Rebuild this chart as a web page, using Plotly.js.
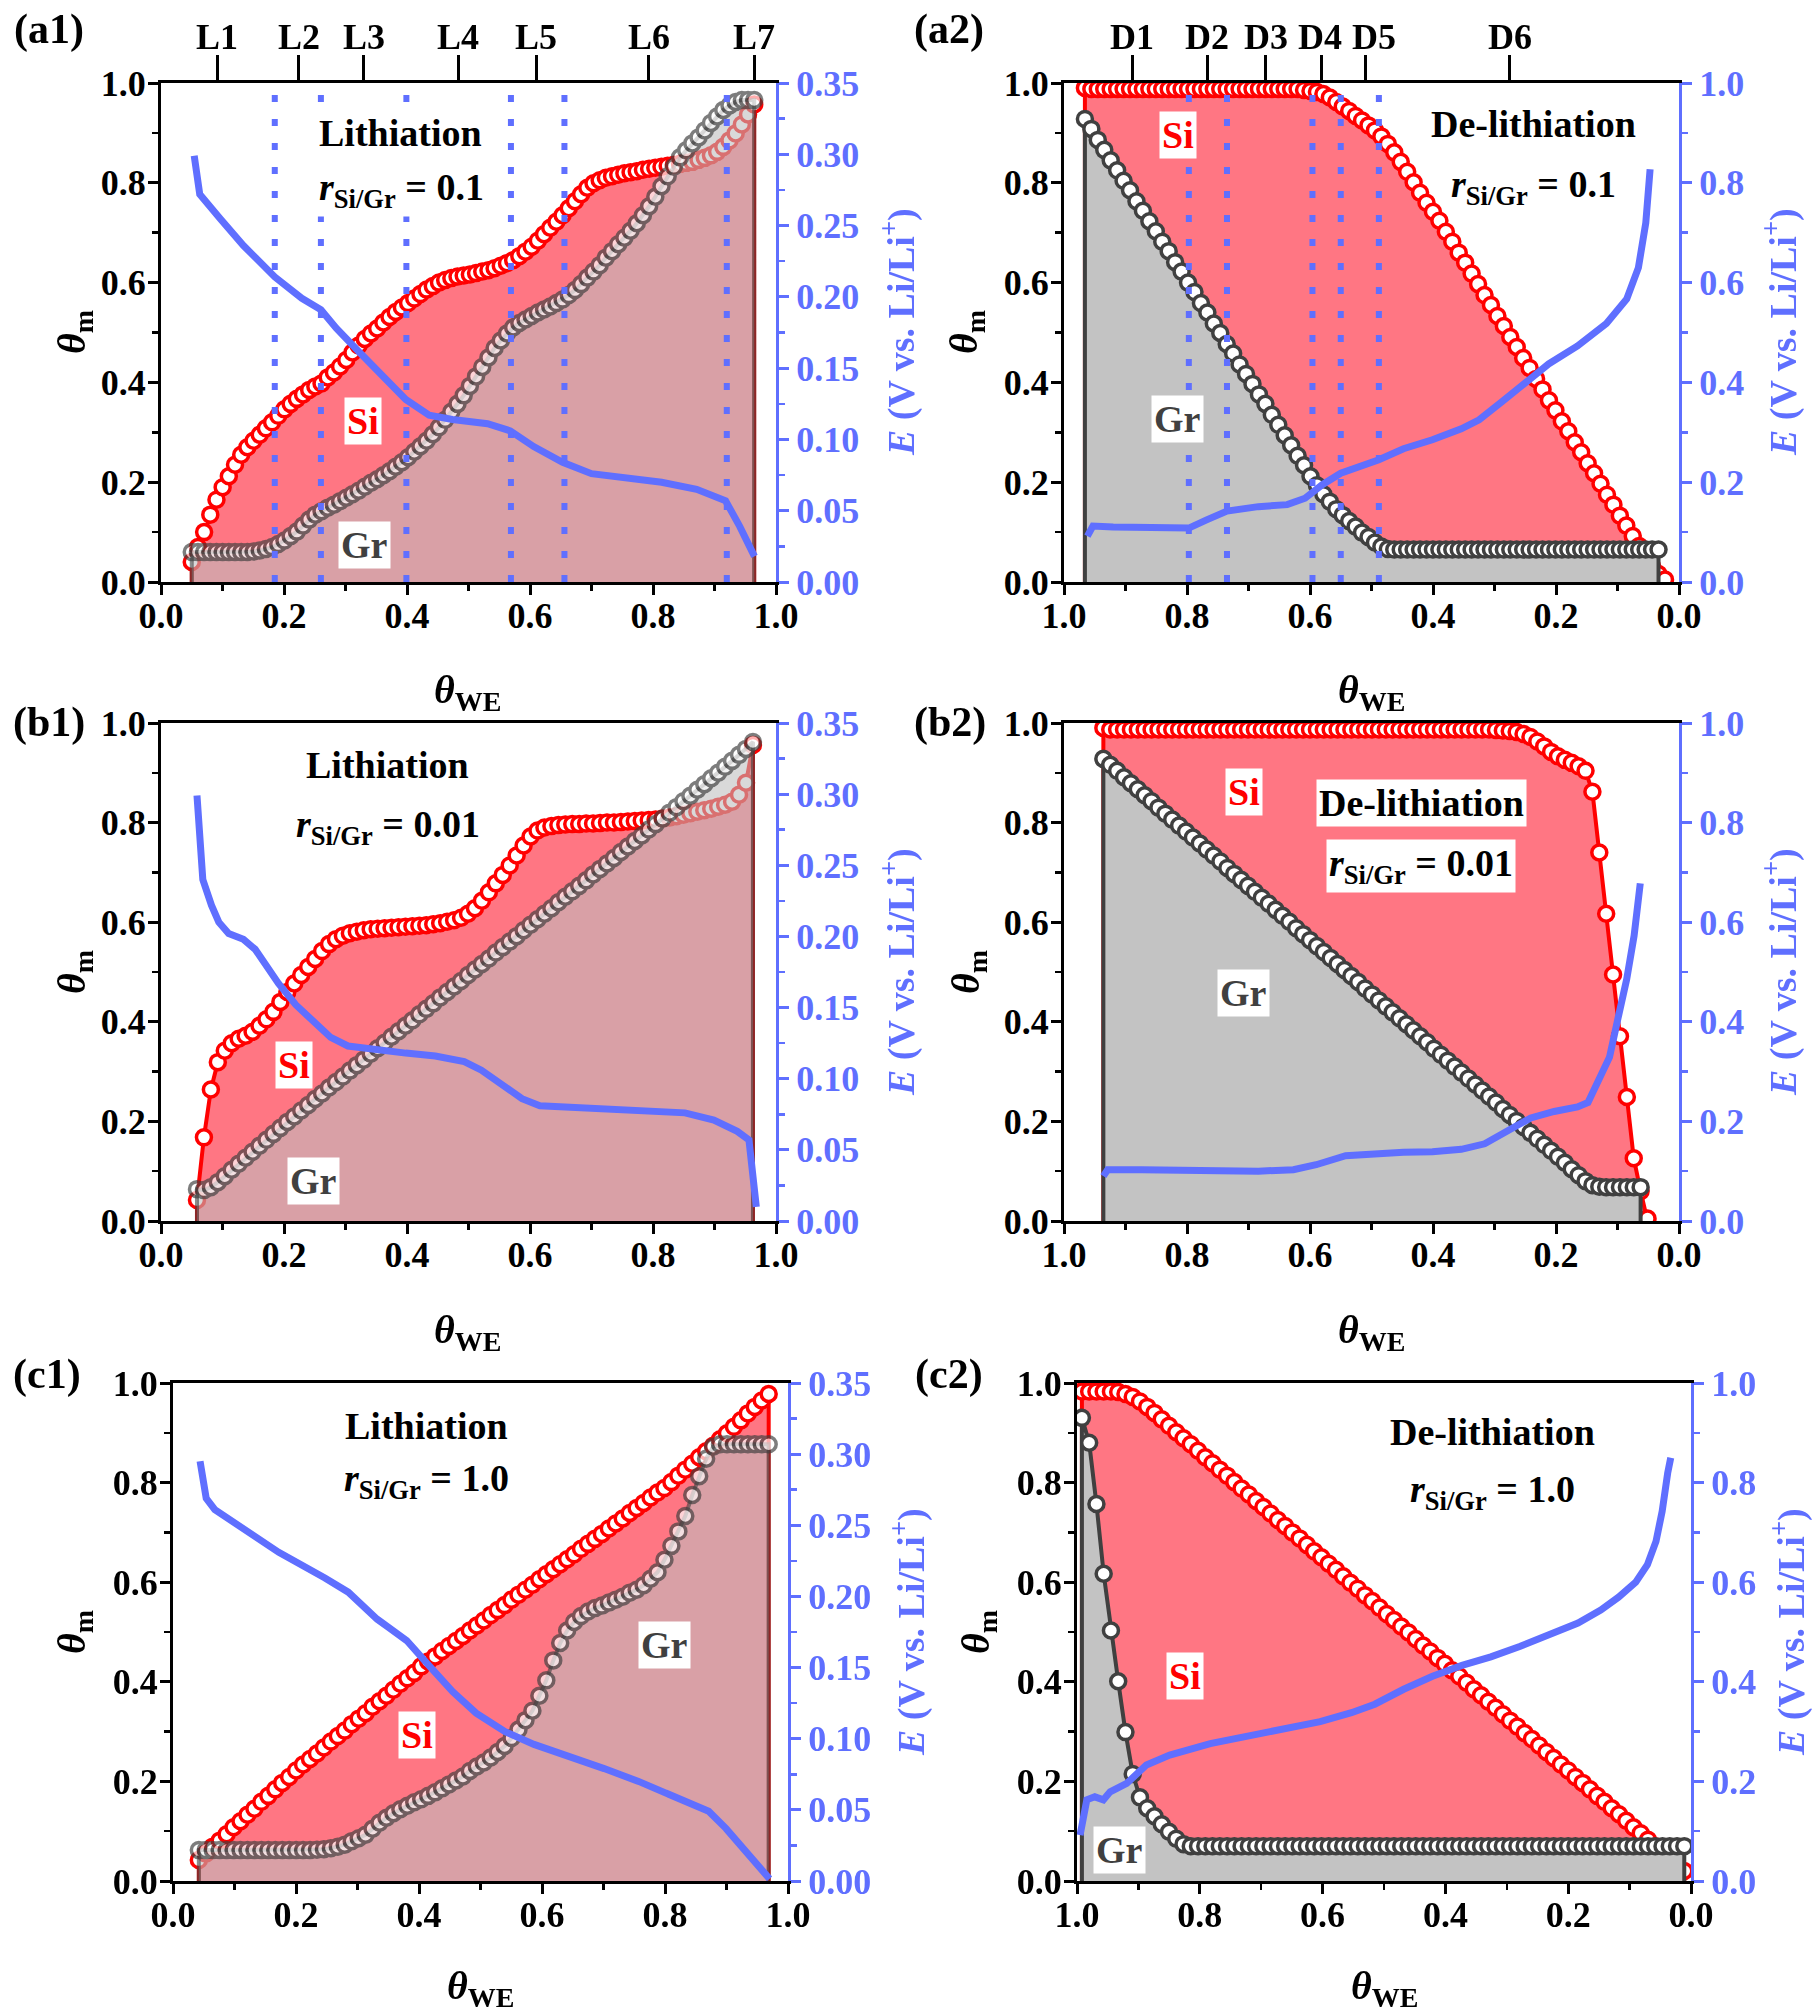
<!DOCTYPE html>
<html>
<head>
<meta charset="utf-8">
<script src="https://cdn.plot.ly/plotly-3.0.1.min.js"></script>
<style>
  html, body { margin: 0; padding: 0; background: #ffffff; }
  #fig { width: 1820px; height: 2012px; }
</style>
</head>
<body>
<div id="fig"></div>
<script>
// ---------- (a1) lithiation, r = 0.1 ----------
const a1_x0 = 0.05, a1_dx = 0.01005;
const a1_si = [0.04,0.07,0.10,0.135,0.165,0.19,0.212,0.235,0.255,0.27,
  0.283,0.295,0.308,0.32,0.333,0.346,0.357,0.367,0.376,0.385,
  0.392,0.398,0.41,0.42,0.432,0.445,0.46,0.474,0.487,0.498,
  0.508,0.52,0.531,0.541,0.55,0.559,0.568,0.577,0.586,0.593,
  0.6,0.605,0.609,0.612,0.614,0.616,0.619,0.622,0.625,0.629,
  0.634,0.639,0.645,0.653,0.662,0.672,0.684,0.697,0.71,0.722,
  0.735,0.749,0.763,0.777,0.79,0.799,0.805,0.81,0.813,0.816,
  0.819,0.821,0.823,0.826,0.828,0.83,0.832,0.834,0.836,0.838,
  0.84,0.842,0.846,0.85,0.855,0.862,0.872,0.885,0.899,0.917,
  0.937,0.957];
const a1_gr = [0.06,0.06,0.06,0.06,0.06,0.06,0.06,0.06,0.06,0.06,
  0.061,0.063,0.066,0.07,0.076,0.083,0.092,0.101,0.113,0.125,
  0.135,0.142,0.149,0.155,0.162,0.169,0.176,0.183,0.191,0.199,
  0.206,0.214,0.222,0.231,0.24,0.25,0.261,0.272,0.283,0.296,
  0.31,0.325,0.341,0.357,0.374,0.393,0.412,0.431,0.45,0.469,
  0.484,0.498,0.51,0.519,0.526,0.533,0.54,0.546,0.552,0.559,
  0.566,0.575,0.585,0.597,0.61,0.622,0.635,0.65,0.663,0.677,
  0.69,0.704,0.719,0.735,0.753,0.772,0.793,0.813,0.832,0.851,
  0.865,0.879,0.891,0.905,0.92,0.933,0.946,0.955,0.962,0.966,
  0.966,0.966];
const a1_eX = [0.054,0.063,0.096,0.134,0.185,0.229,0.26,0.285,0.323,0.361,0.398,0.436,0.474,0.531,0.568,0.606,0.653,0.70,0.757,0.814,0.871,0.918,0.941,0.965];
const a1_eY = [0.299,0.272,0.255,0.236,0.214,0.199,0.191,0.178,0.161,0.145,0.128,0.117,0.114,0.111,0.106,0.095,0.084,0.076,0.073,0.070,0.065,0.057,0.039,0.018];
const a1_stages = [0.185,0.26,0.399,0.569,0.656,0.92];
const a1_stageTicks = [0.0916,0.224,0.33,0.483,0.61,0.793,0.965];
const a1_stageLabels = ['L1','L2','L3','L4','L5','L6','L7'];

// ---------- (a2) de-lithiation, r = 0.1 ----------
const a2_x0 = 0.966, a2_dx = -0.01048;
const a2_si = [0.99,0.988,0.988,0.988,0.988,0.988,0.988,0.988,0.988,0.988,
  0.988,0.988,0.988,0.988,0.988,0.988,0.988,0.988,0.988,0.988,
  0.988,0.988,0.988,0.988,0.988,0.988,0.988,0.988,0.988,0.988,
  0.988,0.988,0.988,0.988,0.986,0.984,0.982,0.978,0.971,0.962,
  0.953,0.944,0.934,0.925,0.915,0.905,0.893,0.878,0.861,0.842,
  0.822,0.801,0.78,0.76,0.742,0.724,0.702,0.682,0.66,0.64,
  0.618,0.597,0.575,0.555,0.533,0.513,0.491,0.471,0.449,0.429,
  0.407,0.386,0.364,0.344,0.322,0.302,0.28,0.26,0.238,0.218,
  0.197,0.175,0.155,0.133,0.113,0.092,0.072,0.05,0.032,0.016,
  0.005];
const a2_gr = [0.928,0.908,0.886,0.866,0.845,0.825,0.804,0.785,0.763,0.744,
  0.723,0.703,0.682,0.663,0.641,0.622,0.6,0.581,0.559,0.54,
  0.518,0.499,0.477,0.458,0.436,0.417,0.397,0.376,0.357,0.335,
  0.315,0.294,0.274,0.253,0.234,0.212,0.194,0.176,0.161,0.146,
  0.134,0.122,0.111,0.099,0.09,0.079,0.071,0.066,0.065,0.065,
  0.065,0.065,0.065,0.065,0.065,0.065,0.065,0.065,0.065,0.065,
  0.065,0.065,0.065,0.065,0.065,0.065,0.065,0.065,0.065,0.065,
  0.065,0.065,0.065,0.065,0.065,0.065,0.065,0.065,0.065,0.065,
  0.065,0.065,0.065,0.065,0.065,0.065,0.065,0.065,0.065,0.065];
const a2_eX = [0.962,0.953,0.92,0.873,0.825,0.797,0.769,0.735,0.684,0.637,0.608,0.58,0.55,0.519,0.488,0.448,0.401,0.354,0.325,0.288,0.25,0.212,0.165,0.118,0.085,0.066,0.054,0.047];
const a2_eY = [0.092,0.112,0.110,0.108,0.106,0.108,0.124,0.142,0.151,0.155,0.168,0.195,0.218,0.231,0.245,0.267,0.285,0.307,0.325,0.361,0.401,0.437,0.473,0.518,0.567,0.63,0.72,0.827];
const a2_stages = [0.797,0.735,0.596,0.55,0.488];
const a2_stageTicks = [0.889,0.767,0.672,0.581,0.51,0.275];
const a2_stageLabels = ['D1','D2','D3','D4','D5','D6'];

// ---------- (b1) lithiation, r = 0.01 ----------
const b1_x0 = 0.0585, b1_dx = 0.0113;
const b1_si = [0.042,0.168,0.264,0.319,0.342,0.357,0.366,0.372,0.38,0.392,
  0.405,0.42,0.44,0.46,0.477,0.494,0.51,0.526,0.542,0.556,
  0.566,0.573,0.578,0.581,0.584,0.586,0.587,0.588,0.589,0.59,
  0.591,0.592,0.593,0.594,0.596,0.598,0.601,0.604,0.609,0.617,
  0.628,0.643,0.66,0.678,0.695,0.714,0.734,0.754,0.772,0.784,
  0.79,0.793,0.795,0.796,0.797,0.797,0.798,0.798,0.799,0.8,
  0.8,0.801,0.802,0.803,0.804,0.805,0.806,0.808,0.81,0.813,
  0.816,0.819,0.822,0.825,0.828,0.832,0.836,0.842,0.856,0.88,
  0.956];
const b1_gr = [0.064,0.062,0.068,0.078,0.09,0.103,0.115,0.127,0.139,0.151,
  0.163,0.175,0.187,0.199,0.21,0.222,0.233,0.245,0.256,0.268,
  0.279,0.29,0.302,0.313,0.324,0.336,0.347,0.358,0.37,0.381,
  0.392,0.403,0.415,0.426,0.437,0.449,0.46,0.471,0.482,0.494,
  0.505,0.516,0.527,0.539,0.55,0.561,0.572,0.584,0.595,0.606,
  0.617,0.628,0.64,0.651,0.662,0.673,0.684,0.696,0.707,0.718,
  0.729,0.741,0.752,0.763,0.774,0.786,0.797,0.808,0.82,0.831,
  0.843,0.854,0.866,0.877,0.889,0.9,0.912,0.924,0.936,0.948,
  0.962];
const b1_eX = [0.0585,0.068,0.082,0.094,0.11,0.134,0.153,0.172,0.191,0.219,0.247,0.276,0.304,0.351,0.398,0.446,0.493,0.521,0.55,0.587,0.616,0.663,0.729,0.795,0.852,0.899,0.937,0.956,0.96,0.968];
const b1_eY = [0.299,0.240,0.222,0.210,0.202,0.198,0.191,0.179,0.167,0.152,0.140,0.129,0.123,0.120,0.118,0.116,0.112,0.106,0.097,0.086,0.081,0.080,0.079,0.078,0.076,0.071,0.063,0.057,0.039,0.010];

// ---------- (b2) de-lithiation, r = 0.01 ----------
const b2_x0 = 0.936, b2_dx = -0.0112;
const b2_si = [0.99,0.987,0.987,0.987,0.987,0.987,0.987,0.987,0.987,0.987,
  0.987,0.987,0.987,0.987,0.987,0.987,0.987,0.987,0.987,0.987,
  0.987,0.987,0.987,0.987,0.987,0.987,0.987,0.987,0.987,0.987,
  0.987,0.987,0.987,0.987,0.987,0.987,0.987,0.987,0.987,0.987,
  0.987,0.987,0.987,0.987,0.987,0.987,0.987,0.987,0.987,0.987,
  0.987,0.987,0.987,0.987,0.987,0.987,0.987,0.986,0.985,0.984,
  0.982,0.978,0.972,0.963,0.953,0.942,0.933,0.926,0.92,0.913,
  0.904,0.862,0.74,0.617,0.495,0.371,0.249,0.126,0.06,0.005];
const b2_gr = [0.928,0.916,0.904,0.891,0.879,0.867,0.855,0.843,0.83,0.818,
  0.806,0.794,0.782,0.77,0.758,0.746,0.734,0.722,0.709,0.697,
  0.685,0.673,0.661,0.649,0.637,0.625,0.613,0.601,0.588,0.576,
  0.564,0.552,0.54,0.528,0.516,0.504,0.492,0.48,0.467,0.455,
  0.443,0.431,0.419,0.407,0.395,0.383,0.371,0.359,0.346,0.334,
  0.322,0.31,0.298,0.286,0.274,0.262,0.25,0.238,0.225,0.213,
  0.201,0.189,0.177,0.165,0.153,0.141,0.129,0.117,0.104,0.092,
  0.08,0.072,0.069,0.068,0.068,0.068,0.068,0.068,0.068];
const b2_eX = [0.936,0.929,0.873,0.778,0.684,0.627,0.59,0.542,0.495,0.448,0.401,0.354,0.316,0.278,0.241,0.203,0.165,0.148,0.132,0.113,0.099,0.085,0.073,0.066,0.063];
const b2_eY = [0.09,0.103,0.103,0.101,0.1,0.103,0.113,0.131,0.135,0.138,0.139,0.144,0.155,0.181,0.207,0.22,0.229,0.238,0.277,0.329,0.408,0.486,0.573,0.634,0.678];

// ---------- (c1) lithiation, r = 1.0 ----------
const c1_x0 = 0.042, c1_dx = 0.0113;
const c1_si = [0.042,0.055,0.069,0.081,0.094,0.108,0.12,0.133,0.145,0.159,
  0.171,0.184,0.197,0.209,0.222,0.234,0.245,0.256,0.268,0.28,
  0.291,0.302,0.315,0.326,0.337,0.35,0.361,0.372,0.384,0.396,
  0.407,0.418,0.431,0.441,0.451,0.462,0.472,0.482,0.492,0.503,
  0.513,0.523,0.534,0.544,0.554,0.565,0.575,0.585,0.595,0.606,
  0.616,0.626,0.636,0.646,0.656,0.667,0.677,0.687,0.697,0.708,
  0.718,0.728,0.739,0.749,0.759,0.77,0.78,0.789,0.801,0.814,
  0.826,0.838,0.851,0.863,0.874,0.887,0.899,0.912,0.925,0.939,
  0.952,0.965,0.978];
const c1_gr = [0.062,0.062,0.062,0.062,0.062,0.062,0.062,0.062,0.062,0.062,
  0.062,0.062,0.062,0.062,0.062,0.062,0.062,0.063,0.064,0.066,
  0.069,0.073,0.08,0.086,0.093,0.105,0.117,0.127,0.136,0.144,
  0.151,0.158,0.164,0.171,0.178,0.186,0.194,0.202,0.21,0.221,
  0.23,0.238,0.248,0.259,0.271,0.287,0.304,0.323,0.342,0.372,
  0.403,0.443,0.478,0.503,0.52,0.532,0.541,0.548,0.553,0.559,
  0.565,0.571,0.579,0.585,0.594,0.607,0.62,0.645,0.673,0.702,
  0.733,0.775,0.813,0.848,0.872,0.877,0.877,0.877,0.877,0.877,
  0.877,0.877,0.877];
const c1_eX = [0.044,0.054,0.068,0.115,0.172,0.247,0.285,0.332,0.38,0.417,0.455,0.493,0.54,0.587,0.644,0.701,0.757,0.814,0.871,0.899,0.937,0.97];
const c1_eY = [0.295,0.269,0.261,0.248,0.231,0.213,0.203,0.184,0.169,0.151,0.133,0.118,0.105,0.096,0.088,0.079,0.070,0.060,0.049,0.037,0.017,0.0015];

// ---------- (c2) de-lithiation, r = 1.0 ----------
const c2_x0 = 0.992, c2_dx = -0.01182;
const c2_si = [0.983,0.983,0.983,0.983,0.983,0.982,0.978,0.972,0.963,0.952,
  0.94,0.927,0.914,0.901,0.889,0.877,0.864,0.851,0.839,0.826,
  0.814,0.801,0.788,0.776,0.763,0.751,0.738,0.725,0.713,0.7,
  0.688,0.675,0.662,0.65,0.637,0.625,0.612,0.599,0.587,0.574,
  0.562,0.549,0.536,0.524,0.511,0.499,0.486,0.473,0.461,0.448,
  0.436,0.423,0.411,0.398,0.385,0.373,0.36,0.348,0.335,0.322,
  0.31,0.297,0.285,0.272,0.259,0.247,0.234,0.222,0.209,0.197,
  0.184,0.171,0.159,0.146,0.134,0.121,0.108,0.096,0.083,0.07,
  0.058,0.045,0.033,0.02];
const c2_gr = [0.93,0.88,0.757,0.617,0.503,0.401,0.299,0.215,0.168,0.146,
  0.13,0.114,0.099,0.085,0.074,0.07,0.07,0.07,0.07,0.07,
  0.07,0.07,0.07,0.07,0.07,0.07,0.07,0.07,0.07,0.07,
  0.07,0.07,0.07,0.07,0.07,0.07,0.07,0.07,0.07,0.07,
  0.07,0.07,0.07,0.07,0.07,0.07,0.07,0.07,0.07,0.07,
  0.07,0.07,0.07,0.07,0.07,0.07,0.07,0.07,0.07,0.07,
  0.07,0.07,0.07,0.07,0.07,0.07,0.07,0.07,0.07,0.07,
  0.07,0.07,0.07,0.07,0.07,0.07,0.07,0.07,0.07,0.07,
  0.07,0.07,0.07,0.07];
const c2_eX = [0.995,0.984,0.971,0.957,0.946,0.919,0.887,0.849,0.783,0.702,0.604,0.553,0.515,0.468,0.421,0.373,0.326,0.279,0.232,0.184,0.147,0.118,0.09,0.071,0.057,0.047,0.038,0.033];
const c2_eY = [0.092,0.163,0.169,0.163,0.179,0.196,0.233,0.253,0.276,0.297,0.32,0.338,0.355,0.385,0.411,0.433,0.45,0.471,0.493,0.518,0.544,0.57,0.6,0.635,0.682,0.742,0.819,0.85];

// ---------- styling ----------
const FONT = 'Liberation Serif, Times New Roman, serif';
const BLUE = '#5f6fff';
const RED = '#ff0000';
const PINK = 'rgb(255,118,131)';
const DARK = '#404040';
const W = 1820, H = 2012;
const px = v => v / W;          // figure pixel -> paper x
const py = v => 1 - v / H;      // figure pixel -> paper y

// theta_WE sampling grid shared by the two series of a panel
function samples(x0, dx, n) {
  const out = [];
  for (let i = 0; i < n; i++) out.push(+(x0 + i * dx).toFixed(5));
  return out;
}

const panels = [
  { n: 1, tag: '(a1)', lith: true, ratio: '0.1', x0: a1_x0, dx: a1_dx, si: a1_si, gr: a1_gr, eX: a1_eX, eY: a1_eY,
    dom: [161, 776, 83, 582], stages: a1_stages, top: [a1_stageTicks, a1_stageLabels], topShift: [0, 0, 0, 0, 0, 0, 0],
    text: { mode: [0.389, 0.9], r: [0.391, 0.785], si: [0.328, 0.323], gr: [0.331, 0.074] },
    titles: { xt: [468, 692], yt: [74, 332], et: [898, 332], tag: [49, 29] } },
  { n: 2, tag: '(a2)', lith: false, ratio: '0.1', x0: a2_x0, dx: a2_dx, si: a2_si, gr: a2_gr, eX: a2_eX, eY: a2_eY,
    dom: [1064, 1679, 83, 582], stages: a2_stages, top: [a2_stageTicks, a2_stageLabels], topShift: [0, 0, 0, -2, 9, 0],
    text: { mode: [0.236, 0.918], r: [0.236, 0.792], si: [0.815, 0.895], gr: [0.816, 0.327] },
    titles: { xt: [1371, 692], yt: [966, 332], et: [1780, 332], tag: [949, 29] } },
  { n: 3, tag: '(b1)', lith: true, ratio: '0.01', x0: b1_x0, dx: b1_dx, si: b1_si, gr: b1_gr, eX: b1_eX, eY: b1_eY,
    dom: [161, 776, 723, 1221], stages: [], top: null,
    text: { mode: [0.369, 0.916], r: [0.369, 0.792], si: [0.216, 0.314], gr: [0.248, 0.08] },
    titles: { xt: [468, 1332], yt: [74, 972], et: [898, 972], tag: [49, 722] } },
  { n: 4, tag: '(b2)', lith: false, ratio: '0.01', x0: b2_x0, dx: b2_dx, si: b2_si, gr: b2_gr, eX: b2_eX, eY: b2_eY,
    dom: [1064, 1679, 723, 1221], stages: [], top: null,
    text: { mode: [0.419, 0.84], r: [0.42, 0.712], si: [0.707, 0.861], gr: [0.708, 0.458] },
    titles: { xt: [1371, 1332], yt: [968, 972], et: [1780, 972], tag: [950, 722] } },
  { n: 5, tag: '(c1)', lith: true, ratio: '1.0', x0: c1_x0, dx: c1_dx, si: c1_si, gr: c1_gr, eX: c1_eX, eY: c1_eY,
    dom: [173, 788, 1383, 1881], stages: [], top: null,
    text: { mode: [0.412, 0.914], r: [0.412, 0.804], si: [0.396, 0.293], gr: [0.799, 0.474] },
    titles: { xt: [480, 1988], yt: [74, 1632], et: [908, 1632], tag: [47, 1374] } },
  { n: 6, tag: '(c2)', lith: false, ratio: '1.0', x0: c2_x0, dx: c2_dx, si: c2_si, gr: c2_gr, eX: c2_eX, eY: c2_eY,
    dom: [1077, 1691, 1383, 1881], stages: [], top: null,
    text: { mode: [0.324, 0.901], r: [0.324, 0.782], si: [0.824, 0.412], gr: [0.931, 0.063] },
    titles: { xt: [1384, 1988], yt: [978, 1632], et: [1788, 1632], tag: [949, 1374] } }
];

const traces = [];
const layout = {
  width: W, height: H,
  margin: { l: 0, r: 0, t: 0, b: 0, pad: 0 },
  paper_bgcolor: '#ffffff', plot_bgcolor: 'rgba(0,0,0,0)',
  showlegend: false, hovermode: false,
  font: { family: FONT, color: '#000000' },
  shapes: [], annotations: []
};

const tickFont = (color) => ({ family: FONT, size: 36, color: color, weight: 'bold' });
const axName = (k, n) => (n === 1 ? k : k + n);
const layoutKey = (k, n) => (n === 1 ? k + 'axis' : k + 'axis' + n);

function polygon(xs, ys, xa, ya, fill, lineColor) {
  return {
    type: 'scatter', mode: 'lines', xaxis: xa, yaxis: ya,
    x: [xs[0]].concat(xs, [xs[xs.length - 1]]),
    y: [0].concat(ys, [0]),
    fill: 'toself', fillcolor: fill,
    line: { color: lineColor, width: 4 }, hoverinfo: 'skip'
  };
}
function points(xs, ys, xa, ya, edge, opacity) {
  return {
    type: 'scatter', mode: 'markers', xaxis: xa, yaxis: ya, x: xs, y: ys, opacity: opacity,
    marker: { symbol: 'circle', size: 15, color: '#ffffff', line: { color: edge, width: 3.5 } },
    hoverinfo: 'skip'
  };
}

panels.forEach(p => {
  const xa = axName('x', p.n), ya = axName('y', p.n), ye = axName('y', p.n + 6);
  const [L, R, T, B] = p.dom;
  const xdom = [px(L), px(R)], ydom = [py(B), py(T)];
  const rev = !p.lith;
  const xs = samples(p.x0, p.dx, p.si.length);
  const xg = samples(p.x0, p.dx, p.gr.length);

  // Si region and points
  traces.push(polygon(xs, p.si, xa, ya, PINK, RED));
  traces.push(points(xs, p.si, xa, ya, RED, 1));
  // Gr region and points
  if (p.lith) {
    traces.push(polygon(xg, p.gr, xa, ya, 'rgba(190,190,190,0.59)', 'rgba(64,64,64,0.6)'));
    traces.push(points(xg, p.gr, xa, ya, DARK, 0.68));
  } else {
    traces.push(polygon(xg, p.gr, xa, ya, 'rgb(195,195,195)', DARK));
    traces.push(points(xg, p.gr, xa, ya, DARK, 1));
  }
  // electrode potential
  traces.push({
    type: 'scatter', mode: 'lines', xaxis: xa, yaxis: ye, x: p.eX, y: p.eY,
    line: { color: BLUE, width: 7 }, hoverinfo: 'skip'
  });

  layout[layoutKey('x', p.n)] = {
    domain: xdom, anchor: ya, range: rev ? [1, 0] : [0, 1], autorange: false,
    showline: true, linecolor: '#000000', linewidth: 3, mirror: true,
    ticks: 'outside', ticklen: 10, tickwidth: 3, tickcolor: '#000000', ticklabelstandoff: -10,
    tick0: 0, dtick: 0.2, tickformat: '.1f', tickfont: tickFont('#000000'),
    minor: { ticks: 'outside', tick0: 0, dtick: 0.1, ticklen: 6, tickwidth: 2.5, tickcolor: '#000000' },
    showgrid: false, zeroline: false, fixedrange: true
  };
  layout[layoutKey('y', p.n)] = {
    domain: ydom, anchor: xa, range: [0, 1], autorange: false,
    showline: true, linecolor: '#000000', linewidth: 3, mirror: false,
    ticks: 'outside', ticklen: 10, tickwidth: 3, tickcolor: '#000000', ticklabelstandoff: -5,
    tick0: 0, dtick: 0.2, tickformat: '.1f', tickfont: tickFont('#000000'),
    minor: { ticks: 'outside', tick0: 0, dtick: 0.1, ticklen: 6, tickwidth: 2.5, tickcolor: '#000000' },
    showgrid: false, zeroline: false, fixedrange: true
  };
  const eMax = p.lith ? 0.35 : 1.0;
  layout[layoutKey('y', p.n + 6)] = {
    overlaying: ya, anchor: xa, side: 'right', range: [0, eMax], autorange: false,
    showline: true, linecolor: BLUE, linewidth: 3,
    ticks: 'outside', ticklen: 10, tickwidth: 3, tickcolor: BLUE,
    tick0: 0, dtick: p.lith ? 0.05 : 0.2, tickformat: p.lith ? '.2f' : '.1f', tickfont: tickFont(BLUE),
    minor: { ticks: 'outside', tick0: 0, dtick: p.lith ? 0.025 : 0.1, ticklen: 6, tickwidth: 2.5, tickcolor: BLUE },
    showgrid: false, zeroline: false, fixedrange: true
  };

  // stage ticks along the top edge, labelled just above them
  if (p.top) {
    const xt = axName('x', p.n + 6);
    layout[layoutKey('x', p.n + 6)] = {
      overlaying: xa, anchor: ya, side: 'top', range: rev ? [1, 0] : [0, 1], autorange: false,
      tickmode: 'array', tickvals: p.top[0], showticklabels: false,
      ticks: 'outside', ticklen: 27, tickwidth: 3, tickcolor: '#000000',
      showline: false, showgrid: false, zeroline: false, fixedrange: true
    };
    traces.push({ type: 'scatter', mode: 'markers', xaxis: xt, yaxis: ya, x: p.top[0],
      y: p.top[0].map(() => null), marker: { opacity: 0 }, hoverinfo: 'skip' });
    p.top[0].forEach((v, i) => layout.annotations.push({
      xref: xa, yref: 'paper', x: v, y: py(37), xshift: p.topShift[i], text: p.top[1][i],
      showarrow: false, xanchor: 'center', yanchor: 'middle',
      font: { family: FONT, size: 36, color: '#000000', weight: 'bold' }
    }));
  }
  p.stages.forEach(v => layout.shapes.push({
    type: 'line', xref: xa, yref: ya + ' domain', x0: v, x1: v, y0: 0, y1: 1, layer: 'above',
    line: { color: BLUE, width: 6, dash: '7px,17px' }
  }));

  // in-plot labels
  const boxed = (pos, text, color) => ({
    xref: xa, yref: ya, x: pos[0], y: pos[1], text: text, showarrow: false,
    xanchor: 'center', yanchor: 'middle', bgcolor: '#ffffff', borderpad: 2,
    font: { family: FONT, size: 38, color: color, weight: 'bold' }
  });
  layout.annotations.push(boxed(p.text.mode, p.lith ? 'Lithiation' : 'De-lithiation', '#000000'));
  layout.annotations.push(boxed(p.text.r, '<i>r</i><sub>Si/Gr</sub> = ' + p.ratio, '#000000'));
  layout.annotations.push(boxed(p.text.si, 'Si', RED));
  layout.annotations.push(boxed(p.text.gr, 'Gr', DARK));

  // axis titles and panel tag
  const free = (pos, text, color, angle, size) => ({
    xref: 'paper', yref: 'paper', x: px(pos[0]), y: py(pos[1]), text: text, showarrow: false,
    xanchor: 'center', yanchor: 'middle', textangle: angle,
    font: { family: FONT, size: size, color: color, weight: 'bold' }
  });
  layout.annotations.push(free(p.titles.xt, '<i>θ</i><sub>WE</sub>', '#000000', 0, 40));
  layout.annotations.push(free(p.titles.yt, '<i>θ</i><sub>m</sub>', '#000000', -90, 40));
  layout.annotations.push(free(p.titles.et, '<i>E</i> (V vs. Li/Li<sup>+</sup>)', BLUE, -90, 38));
  layout.annotations.push(free(p.titles.tag, p.tag, '#000000', 0, 42));
});

Plotly.newPlot('fig', traces, layout, { staticPlot: true, displayModeBar: false });
</script>
</body>
</html>
